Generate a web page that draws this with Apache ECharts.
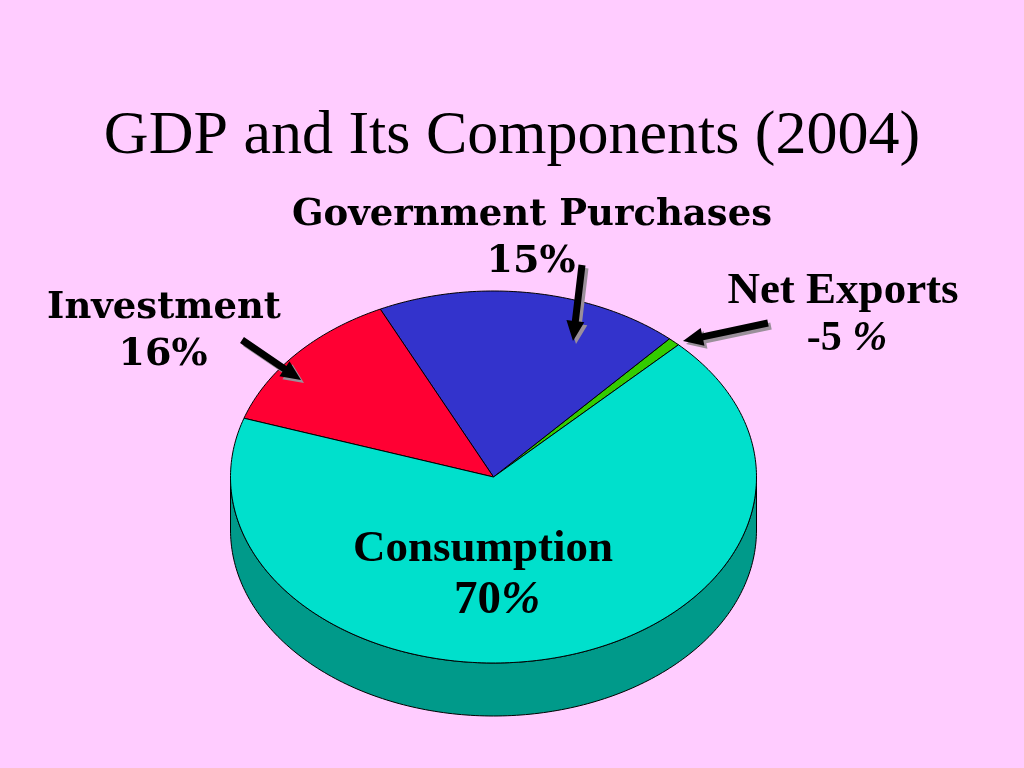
<!DOCTYPE html>
<html>
<head>
<meta charset="utf-8">
<title>GDP and Its Components (2004)</title>
<script src="https://cdn.jsdelivr.net/npm/echarts@6/dist/echarts.min.js"></script>
<style>
  html, body { margin: 0; padding: 0; background: #FFCCFF; }
  #main { width: 1024px; height: 768px; }
</style>
</head>
<body>
<div id="main"></div>
<script>
'use strict'

// slices, counter-clockwise from the right-hand edge of Net Exports
var categories = ['Net Exports', 'Government Purchases', 'Investment', 'Consumption'];
var sliceShares = [0.75, 18.75, 12.8, 67.7];
var shareLabels = ['-5 %', '15%', '16%', '70%'];       // percentages as printed on the slide
var topColors = ['#33CC00', '#3333CC', '#FF0033', '#00E0CC'];
var sideColors = ['#229900', '#22228F', '#B00024', '#009A8A'];

var startDeg = 45.3;    // where the first slice begins
var pie = { cx: 493.5, cy: 477, rx: 263, ry: 186, depth: 53 };

var total = sliceShares.reduce(function (a, b) { return a + b; }, 0);

function sliceRange(i) {
    var before = 0;
    for (var k = 0; k < i; k++) before += sliceShares[k];
    var a0 = startDeg + before / total * 360;
    return [a0, a0 + sliceShares[i] / total * 360];
}

function pt(deg, dy) {
    var a = deg * Math.PI / 180;
    return [pie.cx + pie.rx * Math.cos(a), pie.cy - pie.ry * Math.sin(a) + (dy || 0)];
}

function arc(a0, a1, dy) {
    var pts = [];
    var n = Math.max(2, Math.ceil(Math.abs(a1 - a0)));
    for (var j = 0; j <= n; j++) pts.push(pt(a0 + (a1 - a0) * j / n, dy));
    return pts;
}

// top face of a slice
function renderTop(params, api) {
    var r = sliceRange(params.dataIndex);
    var pts = [[pie.cx, pie.cy]].concat(arc(r[0], r[1], 0));
    return {
        type: 'polygon',
        shape: { points: pts },
        style: { fill: topColors[params.dataIndex], stroke: '#000', lineWidth: 1 }
    };
}

// front wall: only the part of the rim between 180 and 360 degrees faces us
function renderSide(params, api) {
    var r = sliceRange(params.dataIndex);
    var children = [];
    [0, 360].forEach(function (off) {
        var s = Math.max(r[0], 180 + off), e = Math.min(r[1], 360 + off);
        if (e <= s) return;
        var pts = arc(s, e, 0).concat(arc(e, s, pie.depth));
        children.push({
            type: 'polygon',
            shape: { points: pts },
            style: { fill: sideColors[params.dataIndex], stroke: '#000', lineWidth: 1 }
        });
    });
    return { type: 'group', children: children };
}

function arrow(x1, y1, x2, y2) {
    var dx = x2 - x1, dy = y2 - y1, len = Math.sqrt(dx * dx + dy * dy);
    var ux = dx / len, uy = dy / len, nx = -uy, ny = ux;
    var w = 3.5, hl = 20, hw = 9;
    var bx = x2 - ux * hl, by = y2 - uy * hl;
    var pts = [
        [x1 + nx * w, y1 + ny * w], [bx + nx * w, by + ny * w], [bx + nx * hw, by + ny * hw],
        [x2, y2],
        [bx - nx * hw, by - ny * hw], [bx - nx * w, by - ny * w], [x1 - nx * w, y1 - ny * w]
    ];
    var shadow = pts.map(function (p) { return [p[0] + 3, p[1] + 3]; });
    return [
        { type: 'polygon', z: 10, shape: { points: shadow }, style: { fill: '#9a8f9a' } },
        { type: 'polygon', z: 11, shape: { points: pts }, style: { fill: '#000' } }
    ];
}

function label(text, x, y, size, family) {
    return {
        type: 'text', z: 20, x: x, y: y,
        style: {
            text: text, fill: '#000', align: 'center', verticalAlign: 'middle',
            font: 'bold ' + size + 'px ' + family
        }
    };
}

// same, but the percent sign is set in italic (as on the slide)
function labelItalicPct(text, x, y, size, family) {
    var parts = text.split('%');
    return {
        type: 'text', z: 20, x: x, y: y,
        style: {
            text: '{n|' + parts[0] + '}{p|%}', align: 'center', verticalAlign: 'middle',
            rich: {
                n: { fill: '#000', fontFamily: family, fontWeight: 'bold', fontSize: size },
                p: { fill: '#000', fontFamily: family, fontWeight: 'bold', fontStyle: 'italic', fontSize: size }
            }
        }
    };
}

var serif = '"Liberation Serif", "Times New Roman", serif';
var book = '"DejaVu Serif", serif';

var chartView = echarts.init(document.getElementById('main'));
chartView.setOption({
    backgroundColor: '#FFCCFF',
    animation: false,
    title: {
        text: 'GDP and Its Components (2004)',
        left: 'center', top: 101,
        textStyle: { fontFamily: serif, fontWeight: 'normal', fontSize: 62, color: '#000' }
    },
    series: [
        { type: 'custom', name: 'side', coordinateSystem: 'none', z: 1, data: sliceShares, renderItem: renderSide },
        { type: 'custom', name: 'top', coordinateSystem: 'none', z: 2, data: sliceShares, renderItem: renderTop }
    ],
    graphic: [].concat(
        label(categories[1], 532, 215, 37, book),
        label(shareLabels[1], 531, 262, 38, book),
        label(categories[2], 164, 308, 37, book),
        label(shareLabels[2], 163, 355, 38, book),
        label(categories[0], 843, 291, 45, serif),
        labelItalicPct(shareLabels[0], 847, 339, 42, serif),
        label(categories[3], 483, 549, 45, serif),
        labelItalicPct(shareLabels[3], 497, 601, 47, serif),
        arrow(242, 340, 301, 380),
        arrow(582, 265, 573, 341),
        arrow(768, 323, 683, 341)
    )
});
</script>
</body>
</html>
